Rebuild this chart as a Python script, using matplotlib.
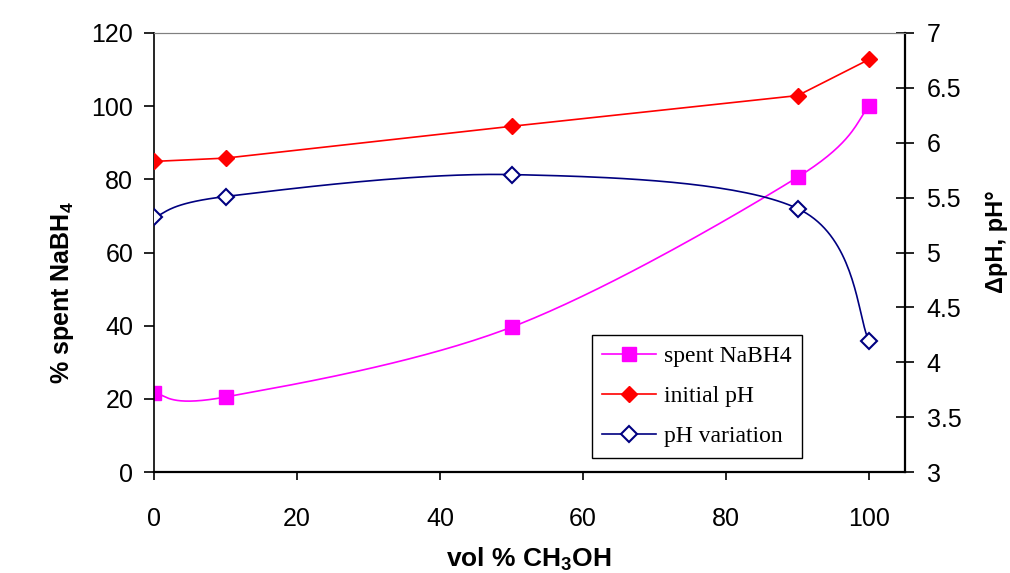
import numpy as np
import matplotlib
matplotlib.use("Agg")
import matplotlib.pyplot as plt
from matplotlib.lines import Line2D

plt.rcParams['font.family'] = ['Liberation Sans', 'DejaVu Sans']
plt.rcParams['mathtext.fontset'] = 'custom'
plt.rcParams['mathtext.rm'] = 'Liberation Sans:bold'
plt.rcParams['mathtext.it'] = 'Liberation Sans:bold'
plt.rcParams['mathtext.bf'] = 'Liberation Sans:bold'

# ---- data ----
vol_meoh = [0, 10, 50, 90, 100]
spent_nabh4 = [21.6, 20.5, 39.6, 80.6, 100.0]
initial_ph = [5.83, 5.86, 6.15, 6.43, 6.76]
ph_variation = [5.32, 5.51, 5.71, 5.40, 4.19]

left_ticks = [0, 20, 40, 60, 80, 100, 120]
right_ticks = [3, 3.5, 4, 4.5, 5, 5.5, 6, 6.5, 7]
x_ticks = [0, 20, 40, 60, 80, 100]

fig = plt.figure(figsize=(10.10, 5.73), dpi=100)
ax = fig.add_axes([154/1010, 1-472/573, (905-154)/1010, (472-33)/573])
ax2 = ax.twinx()

ax.set_xlim(0, 105)
ax.set_ylim(0, 120)
ax2.set_ylim(3, 7)


def excel_smooth(axis, xs, ys, n=40):
    pts = axis.transData.transform(np.column_stack([xs, ys]))
    P = np.vstack([pts[0], pts, pts[-1]])
    out = []
    for i in range(1, len(P) - 2):
        p0, p1, p2, p3 = P[i - 1], P[i], P[i + 1], P[i + 2]
        c1 = p1 + (p2 - p0) / 6.0
        c2 = p2 - (p3 - p1) / 6.0
        t = np.linspace(0, 1, n)[:, None]
        seg = ((1 - t) ** 3) * p1 + 3 * ((1 - t) ** 2) * t * c1 + 3 * (1 - t) * t ** 2 * c2 + t ** 3 * p2
        out.append(seg if i == 1 else seg[1:])
    out = np.vstack(out)
    d = axis.transData.inverted().transform(out)
    return d[:, 0], d[:, 1]


MAG = '#FF00FF'
RED = '#FF0000'
NAVY = '#000080'
lw = 1.2

sx, sy = excel_smooth(ax, vol_meoh, spent_nabh4)
ax.plot(sx, sy, color=MAG, lw=lw)
ax.plot(vol_meoh, spent_nabh4, ls='none', marker='s', ms=9.5, color=MAG, mec=MAG)

ax2.plot(vol_meoh, initial_ph, color=RED, lw=lw, marker='D', ms=8, mfc=RED, mec=RED)
px, py = excel_smooth(ax2, vol_meoh, ph_variation)
ax2.plot(px, py, color=NAVY, lw=lw)
ax2.plot(vol_meoh, ph_variation, ls='none', marker='D', ms=8, mfc='white', mec=NAVY, mew=1.5)

# axes styling
for a in (ax, ax2):
    a.spines['top'].set_color('#808080')
    a.spines['top'].set_linewidth(0.8)
ax.spines['right'].set_visible(False)
ax2.spines['left'].set_visible(False)
ax2.spines['bottom'].set_visible(False)
ax.spines['left'].set_linewidth(1.2)
ax.spines['bottom'].set_linewidth(1.6)
ax2.spines['right'].set_linewidth(1.6)

ax.set_xticks(x_ticks)
ax.set_yticks(left_ticks)
ax2.set_yticks(right_ticks)
ax2.set_yticklabels([('%g' % v) for v in right_ticks])

ax.tick_params(axis='x', direction='out', length=6, width=1.2, pad=19, labelsize=18)
ax.tick_params(axis='y', direction='out', length=7, width=1.2, pad=8, labelsize=18)
ax2.tick_params(axis='y', direction='inout', length=13, width=1.2, pad=9, labelsize=18)

fig.text(529/1010, 1-559/573, 'vol % CH$_3$OH', ha='center', va='center',
         fontsize=19, fontweight='bold')
fig.text(62/1010, 1-293/573, '% spent NaBH$_4$', ha='center', va='center',
         rotation=90, fontsize=18, fontweight='bold')
fig.text(997/1010, 1-242/573, '\u0394pH, pH\u00b0', ha='center', va='center',
         rotation=90, fontsize=17, fontweight='bold')

handles = [
    Line2D([], [], color=MAG, lw=lw, marker='s', ms=9.5, mec=MAG),
    Line2D([], [], color=RED, lw=lw, marker='D', ms=8, mec=RED),
    Line2D([], [], color=NAVY, lw=lw, marker='D', ms=8, mfc='white', mec=NAVY, mew=1.5),
]
labels = ['spent NaBH4', 'initial pH', 'pH variation']
leg = ax2.legend(handles, labels, loc='lower left', bbox_to_anchor=(0.583, 0.032),
                 prop={'family': 'Liberation Serif', 'size': 17},
                 frameon=True, fancybox=False, edgecolor='black', framealpha=1,
                 handlelength=2.25, handletextpad=0.35, labelspacing=0.78,
                 borderpad=0.45, borderaxespad=0)
leg.get_frame().set_linewidth(1.0)

fig.savefig('out.png', dpi=100)
